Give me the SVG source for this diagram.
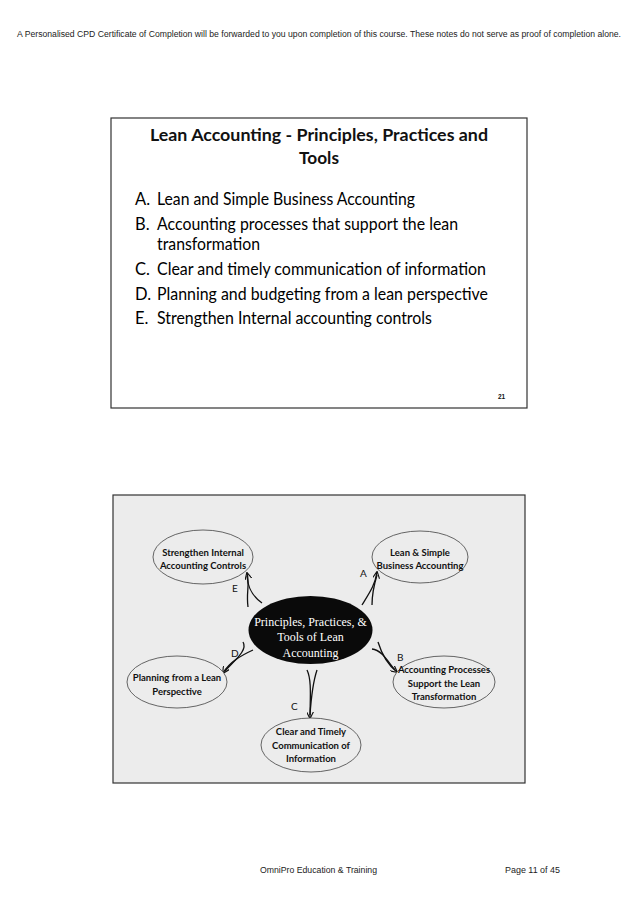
<svg xmlns="http://www.w3.org/2000/svg" width="638" height="903" viewBox="0 0 638 903">
<style>
.hdr{font-family:"Liberation Sans",Arial,sans-serif;font-size:8.5px;fill:#222}
.title{font-family:Lato,"Open Sans",sans-serif;font-weight:bold;font-size:17.5px;fill:#111}
.item{font-family:Lato,"Open Sans",sans-serif;font-size:16.5px;fill:#000}
.node{fill:#ececec;stroke:#555;stroke-width:0.9}
.ntext{font-family:Lato,"Open Sans",sans-serif;font-weight:bold;font-size:9.5px;fill:#111;text-anchor:middle}
.ctext{font-family:"Liberation Serif","Times New Roman",serif;font-size:12px;fill:#fff;text-anchor:middle}
.lbl{font-family:Lato,"Open Sans",sans-serif;font-size:10px;fill:#111}
.conn path{fill:none;stroke:#111;stroke-width:1.3}
</style>
<defs>
<marker id="arr" viewBox="0 0 10 10" refX="9" refY="5" markerWidth="7" markerHeight="7" orient="auto" markerUnits="userSpaceOnUse">
<path d="M0,0 L10,5 L0,10" fill="none" stroke="#111" stroke-width="1.6"/>
</marker>
</defs>
<rect width="638" height="903" fill="#fff"/>
<text class="hdr" x="17" y="37" textLength="604" lengthAdjust="spacingAndGlyphs">A Personalised CPD Certificate of Completion will be forwarded to you upon completion of this course. These notes do not serve as proof of completion alone.</text>

<g id="slide1">
<rect x="111" y="118" width="416" height="290" fill="#fff" stroke="#333" stroke-width="1.2"/>
<text class="title" x="150" y="141" textLength="338" lengthAdjust="spacingAndGlyphs">Lean Accounting - Principles, Practices and</text>
<text class="title" x="299" y="164" textLength="40" lengthAdjust="spacingAndGlyphs">Tools</text>
<text class="item" x="135" y="205">A.</text>
<text class="item" x="157" y="205" textLength="258" lengthAdjust="spacingAndGlyphs">Lean and Simple Business Accounting</text>
<text class="item" x="135" y="230">B.</text>
<text class="item" x="157" y="230" textLength="301" lengthAdjust="spacingAndGlyphs">Accounting processes that support the lean</text>
<text class="item" x="157" y="250" textLength="103" lengthAdjust="spacingAndGlyphs">transformation</text>
<text class="item" x="135" y="275">C.</text>
<text class="item" x="157" y="275" textLength="329" lengthAdjust="spacingAndGlyphs">Clear and timely communication of information</text>
<text class="item" x="135" y="300">D.</text>
<text class="item" x="157" y="300" textLength="331" lengthAdjust="spacingAndGlyphs">Planning and budgeting from a lean perspective</text>
<text class="item" x="135" y="324">E.</text>
<text class="item" x="157" y="324" textLength="275" lengthAdjust="spacingAndGlyphs">Strengthen Internal accounting controls</text>
<text x="498" y="399" font-family="Liberation Sans,Arial,sans-serif" font-size="6.5" font-weight="bold" fill="#111">21</text>
</g>

<g id="slide2">
<rect x="113" y="495" width="412" height="288" fill="#ececec" stroke="#333" stroke-width="1.2"/>
</g>

<g class="conn" id="connectors">
<path d="M248,607 C246,592 250,585 247,573" marker-end="url(#arr)"/>
<path d="M262,603 C252,596 248,588 247,576"/>
<path d="M362,605 C370,592 375,585 377,572" marker-end="url(#arr)"/>
<path d="M372,605 C372,595 374,585 377,575"/>
<path d="M253,650 C240,656 230,662 223,673" marker-end="url(#arr)"/>
<path d="M243,642 C248,650 235,660 225,671"/>
<path d="M378,642 C382,655 388,665 397,672" marker-end="url(#arr)"/>
<path d="M372,649 C382,650 388,662 395,670"/>
<path d="M307,670 C312,680 310,700 310,718" marker-end="url(#arr)"/>
<path d="M317,670 C312,685 311,700 310,715"/>
</g>

<g id="nodeE">
<ellipse class="node" cx="203" cy="557" rx="50" ry="27"/>
<text class="ntext" x="203" y="556">Strengthen Internal</text>
<text class="ntext" x="203" y="569">Accounting Controls</text>
</g>
<g id="nodeA">
<ellipse class="node" cx="420" cy="557" rx="48" ry="26"/>
<text class="ntext" x="420" y="556">Lean &amp; Simple</text>
<text class="ntext" x="420" y="569">Business Accounting</text>
</g>
<g id="nodeCenter">
<ellipse cx="310.5" cy="630" rx="62" ry="34" fill="#0a0a0a"/>
<text class="ctext" x="310.5" y="626">Principles, Practices, &amp;</text>
<text class="ctext" x="310.5" y="641">Tools of Lean</text>
<text class="ctext" x="310.5" y="657">Accounting</text>
</g>
<g id="nodeD">
<ellipse class="node" cx="177" cy="682" rx="50" ry="26"/>
<text class="ntext" x="177" y="681">Planning from a Lean</text>
<text class="ntext" x="177" y="695">Perspective</text>
</g>
<g id="nodeB">
<ellipse class="node" cx="444" cy="682" rx="51" ry="26"/>
<text class="ntext" x="444" y="673">Accounting Processes</text>
<text class="ntext" x="444" y="687">Support the Lean</text>
<text class="ntext" x="444" y="700">Transformation</text>
</g>
<g id="nodeC">
<ellipse class="node" cx="311" cy="745" rx="50" ry="27"/>
<text class="ntext" x="311" y="735">Clear and Timely</text>
<text class="ntext" x="311" y="749">Communication of</text>
<text class="ntext" x="311" y="762">Information</text>
</g>

<g id="labels">
<text class="lbl" x="232" y="592">E</text>
<text class="lbl" x="360" y="577">A</text>
<text class="lbl" x="231" y="657">D</text>
<text class="lbl" x="397" y="661">B</text>
<text class="lbl" x="291" y="710">C</text>
</g>

<text class="hdr" x="260" y="873" textLength="117" lengthAdjust="spacingAndGlyphs">OmniPro Education &amp; Training</text>
<text class="hdr" x="505" y="873" textLength="55" lengthAdjust="spacingAndGlyphs">Page 11 of 45</text>
</svg>
